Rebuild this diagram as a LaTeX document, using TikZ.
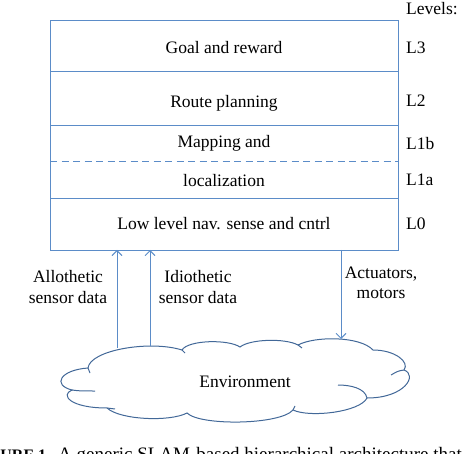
\documentclass[tikz,border=0pt]{standalone}
\usepackage{fontspec}
\setmainfont{Liberation Serif}
\usetikzlibrary{arrows.meta,positioning}
\definecolor{lineblue}{RGB}{91,140,200}
\definecolor{cloudblue}{RGB}{66,104,152}

\begin{document}
\begin{tikzpicture}[x=1pt,y=-1pt,
  font=\fontsize{17.5}{20.5}\selectfont,
  layer/.style={minimum width=348pt,inner sep=0pt,outer sep=0pt,text depth=0pt},
  lvl/.style={anchor=west,inner sep=0pt},
  lbl/.style={align=center,inner sep=0pt},
  link/.style={draw=lineblue,line width=0.9pt,-{Straight Barb[length=5pt,width=10pt]}}]
  \useasboundingbox (0,0) rectangle (474,454);
  \node[layer,minimum height=51pt,text height=15.6pt] (goal) at (224,45.5) {Goal and reward};
  \node[layer,minimum height=54.7pt,text height=17.8pt,below=0pt of goal] (route) {Route planning};
  \node[layer,minimum height=35.8pt,text height=8.2pt,below=0pt of route] (map) {Mapping and};
  \node[layer,minimum height=36.8pt,text height=13.4pt,below=0pt of map] (loc) {localization};
  \node[layer,minimum height=51.7pt,text height=10.2pt,below=0pt of loc] (low) {Low level nav. sense and cntrl};
  \draw[lineblue,line width=0.9pt] (goal.north west) rectangle (low.south east);
  \draw[lineblue,line width=0.9pt] (goal.south west) -- (goal.south east);
  \draw[lineblue,line width=0.9pt] (route.south west) -- (route.south east);
  \draw[lineblue,line width=0.9pt,dashed,dash pattern=on 7pt off 4.5pt] (map.south west) -- (map.south east);
  \draw[lineblue,line width=0.9pt] (loc.south west) -- (loc.south east);

  \node[lvl] (levels) at (406,9) {Levels:};
  \node[lvl,right=8pt of goal.east,yshift=-2.5pt] (l3) {L3};
  \node[lvl,right=8pt of route.east,yshift=-2.5pt] (l2) {L2};
  \node[lvl,right=8pt of map.east] (l1b) {L1b};
  \node[lvl,right=8pt of loc.east] (l1a) {L1a};
  \node[lvl,right=8pt of low.east] (l0) {L0};

  \draw[cloudblue,line width=1pt]
    (88,368) .. controls (90,350) and (150,340) .. (182,350)
    .. controls (188,340) and (228,339) .. (240,347)
    .. controls (250,339) and (285,338) .. (298,345)
    .. controls (315,336) and (360,336) .. (373,350)
    .. controls (395,350) and (410,362) .. (404,370)
    .. controls (418,375) and (405,398) .. (367,398)
    .. controls (360,412) and (310,418) .. (293,410)
    .. controls (280,425) and (200,426) .. (187,413)
    .. controls (170,422) and (120,420) .. (107,408)
    .. controls (70,408) and (60,395) .. (72,390)
    .. controls (52,385) and (60,370) .. (88,368) -- cycle;
  \draw[cloudblue,line width=1pt] (88,368) -- (90,373);
  \draw[cloudblue,line width=1pt] (182,350) -- (185,353);
  \draw[cloudblue,line width=1pt] (298,345) -- (302,348);
  \draw[cloudblue,line width=1pt] (404,370) .. controls (398,371) .. (391,375);
  \draw[cloudblue,line width=1pt] (367,398) .. controls (365,388) and (350,385) .. (338,385);
  \draw[cloudblue,line width=1pt] (293,410) -- (295,406);
  \draw[cloudblue,line width=1pt] (107,408) -- (115,409);
  \draw[cloudblue,line width=1pt] (72,390) .. controls (80,391) .. (95,391);
  \node (env) at (245,382) {Environment};

  \coordinate (allo) at (117,348);
  \coordinate (idio) at (150,346);
  \coordinate (act) at (341,339);
  \draw[link] (allo) -- (allo |- low.south);
  \draw[link] (idio) -- (idio |- low.south);
  \draw[link] (act |- low.south) -- (act);
  \node[lbl] (allotxt) at (68,287) {Allothetic\\sensor data};
  \node[lbl] (idiotxt) at (198,287) {Idiothetic\\sensor data};
  \node[lbl] (acttxt) at (381,283) {Actuators,\\motors};

  \node[anchor=base west,inner sep=0pt,font=\fontsize{19}{22}\selectfont] (caption) at (58,460)
    {\llap{\bfseries\fontsize{16}{19}\selectfont FIGURE 1.\ \ }A generic SLAM-based hierarchical architecture that};
\end{tikzpicture}
\end{document}
